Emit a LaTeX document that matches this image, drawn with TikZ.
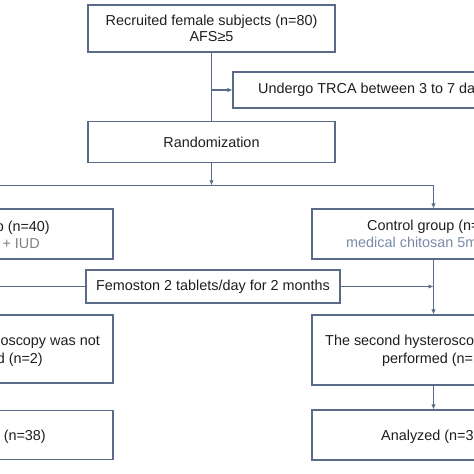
\documentclass[tikz,border=0pt]{standalone}
\usepackage{fontspec}
\setmainfont{Liberation Sans}
\usetikzlibrary{calc}
\usetikzlibrary{arrows.meta}

\definecolor{boxline}{RGB}{92,106,138}
\definecolor{armtext}{RGB}{122,138,168}
\definecolor{greytext}{RGB}{128,128,128}
\definecolor{bodytext}{RGB}{30,30,30}

\begin{document}
\begin{tikzpicture} [
    x=1pt, y=-1pt,                                  % picture is laid out in pixels, top-down
    font=\fontsize{14.4}{16.6}\selectfont,
    ]
% -------------------------------------------------
\tikzset{
  rect/.style={draw=boxline, line width=1.1pt, rectangle, align=center, inner sep=0pt, text=bodytext},
  line/.style={draw=boxline, line width=1.1pt},
  arrow/.style={line, -{Latex[length=5pt,width=4.5pt]}},
  frag/.style={inner sep=0pt, text=bodytext, text height=1.5ex, text depth=.3ex}
}

    \useasboundingbox (0,0) rectangle (474,474);
    \clip (0,0) rectangle (474,474);                % boxes run past the frame on both sides

    \node [rect, minimum width=247, minimum height=47] (rec) at (211.5,28.5) {Recruited female subjects (n=80)\\AFS≥5};
    \node [rect, minimum width=330, minimum height=36] (trca) at (398,90) {};
    \node [rect, minimum width=247, minimum height=41.5] (rand) at (211.5,142) {Randomization};

    \node [rect, minimum width=248, minimum height=50] (study) at (-11,234) {};
    \node [rect, minimum width=243, minimum height=50] (ctrl) at (433.5,234) {};
    \node [rect, minimum width=254, minimum height=33] (femo) at (213,286.5) {Femoston 2 tablets/day for 2 months};

    \node [rect, minimum width=248, minimum height=68] (studyhys) at (-11,349) {};
    \node [rect, minimum width=243, minimum height=70] (ctrlhys) at (433.5,350) {};
    \node [rect, minimum width=248, minimum height=49] (studyana) at (-11,435) {};
    \node [rect, minimum width=243, minimum height=50] (ctrlana) at (433.5,435) {};

    % visible parts of the clipped box texts
    \node [frag, anchor=west] (trcatxt) at (258,90) {Undergo TRCA between 3 to 7 da};
    \node [frag, anchor=east] (studyn) at (50,228) {p (n=40)};
    \node [frag, anchor=east, text=greytext] (studyarm) at (40,245) {+ IUD};
    \node [frag, anchor=west] (ctrln) at (367,227) {Control group (n=};
    \node [frag, anchor=west, text=armtext] (ctrlarm) at (346,244) {medical chitosan 5m};
    \node [frag, anchor=east] (studyhysa) at (100,342) {oscopy was not};
    \node [frag, anchor=east] (studyhysb) at (43,360) {d (n=2)};
    \node [frag, anchor=west] (ctrlhysa) at (325,342) {The second hysterosco};
    \node [frag, anchor=west] (ctrlhysb) at (382,360) {performed (n=};
    \node [frag, anchor=east] (studyanatxt) at (46,437) {(n=38)};
    \node [frag, anchor=west] (ctrlanatxt) at (381,437) {Analyzed (n=3};

    \coordinate (trcain) at (rec.south |- trca.west);
    \coordinate (split) at ($(rand.south)+(0,22)$);

    \path [line] (rec.south) -- (rand.north);
    \path [arrow] (trcain) -- (trca.west);

    \path [arrow] (rand.south) -- (split);
    \path [arrow] (split) -| (ctrl.north);
    \path [arrow] (split) -| (study.north);

    \path [arrow] (study.south) -- (studyhys.north);
    \path [arrow] (ctrl.south) -- (ctrlhys.north);
    \path [line] (study.south |- femo.west) -- (femo.west);
    \path [arrow] (femo.east) -- (ctrl.south |- femo.east);

    \path [arrow] (studyhys.south) -- (studyana.north);
    \path [arrow] (ctrlhys.south) -- (ctrlana.north);

\end{tikzpicture}
\end{document}
